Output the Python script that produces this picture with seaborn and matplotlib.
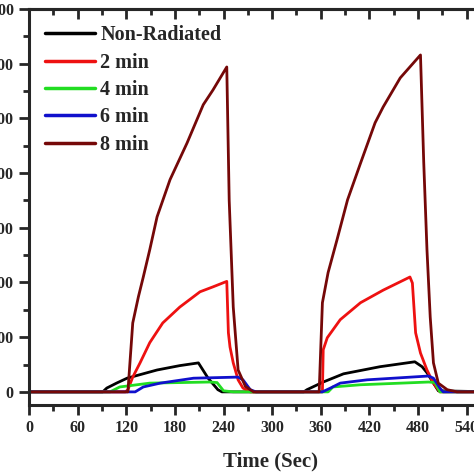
import pandas as pd
import matplotlib
matplotlib.use('Agg')
import matplotlib.pyplot as plt
import seaborn as sns
from matplotlib.ticker import MultipleLocator

# values (time in s, signal)
non_t = [0, 91, 96, 108, 121, 158, 186, 209, 221, 233, 238, 339, 343, 363, 388, 433, 476, 485, 491, 499, 505, 570]
non_y = [0, 0, 7, 16, 25, 40, 48, 53, 25, 4, 0, 0, 4, 18, 33, 46, 55, 46, 35, 16, 2, 0]

m2_t = [0, 119, 122, 128, 137, 149, 165, 186, 211, 227, 244, 246, 248, 252, 258, 264, 273,
        360, 362, 363, 368, 384, 409, 437, 470, 473, 477, 483, 491, 499, 507, 570]
m2_y = [0, 0, 4, 27, 53, 90, 126, 155, 183, 192, 202, 108, 82, 53, 22, 7, 0,
        0, 0, 77, 99, 132, 163, 186, 210, 199, 108, 71, 40, 16, 0, 0]

m4_t = [0, 100, 112, 149, 223, 232, 240, 252, 369, 375, 409, 493, 501, 507, 570]
m4_y = [0, 0, 9, 16, 18, 17, 2, 0, 0, 9, 13, 18, 17, 0, 0]

m6_t = [0, 131, 141, 162, 203, 258, 264, 273, 280, 362, 372, 384, 417, 493, 499, 507, 511, 570]
m6_y = [0, 0, 9, 16, 25, 27, 22, 4, 0, 0, 7, 16, 22, 29, 25, 7, 0, 0]

m8_t = [0, 122, 128, 135, 141, 149, 158, 174, 195, 215, 227, 244, 247, 252, 258, 267, 277,
        358, 362, 369, 380, 393, 409, 427, 437, 458, 483, 487, 491, 495, 499, 505, 516, 528, 570]
m8_y = [0, 0, 126, 174, 210, 260, 320, 388, 455, 525, 552, 594, 350, 155, 40, 10, 0,
        0, 163, 218, 278, 351, 418, 492, 521, 574, 616, 420, 260, 137, 53, 16, 4, 0, 0]

series = {'Non-Radiated': (non_t, non_y), '2 min': (m2_t, m2_y), '4 min': (m4_t, m4_y),
          '6 min': (m6_t, m6_y), '8 min': (m8_t, m8_y)}
frames = []
for name, (t, y) in series.items():
    frames.append(pd.DataFrame({'time': t, 'value': y, 'sample': name}))
df = pd.concat(frames, ignore_index=True)

colors = {'Non-Radiated': '#000000', '2 min': '#ee1111', '4 min': '#22dd22',
          '6 min': '#1010cc', '8 min': '#750808'}

sns.set_style('ticks')
plt.rcParams['font.family'] = ['Liberation Serif', 'DejaVu Serif']
plt.rcParams['font.weight'] = 'bold'

fig = plt.figure(figsize=(4.74, 4.74), dpi=100)
ax = fig.add_axes([29 / 474, 1 - 405 / 474, 462 / 474, 396 / 474])

sns.lineplot(data=df, x='time', y='value', hue='sample', palette=colors,
             estimator=None, sort=False, linewidth=2.0, ax=ax)

ax.set_xlim(0, 570)
ax.set_ylim(-24, 700)
ax.xaxis.set_major_locator(MultipleLocator(60))
ax.xaxis.set_minor_locator(MultipleLocator(30))
ax.yaxis.set_major_locator(MultipleLocator(100))
ax.yaxis.set_minor_locator(MultipleLocator(50))
for s in ax.spines.values():
    s.set_linewidth(2.2)
ax.tick_params(which='major', direction='out', length=7, width=2, labelsize=11.5, pad=4)
ax.tick_params(which='minor', direction='out', length=4, width=2)
for lab in ax.get_xticklabels() + ax.get_yticklabels():
    lab.set_fontweight('bold')

# mirrored ticks on top pointing into the plot
top = ax.secondary_xaxis('top')
top.xaxis.set_major_locator(MultipleLocator(60))
top.xaxis.set_minor_locator(MultipleLocator(30))
top.tick_params(which='major', direction='in', length=7, width=2, labeltop=False)
top.tick_params(which='minor', direction='in', length=4, width=2)
top.spines['top'].set_linewidth(2.2)

ax.set_xlabel('Time (Sec)', fontsize=15, fontweight='bold')
ax.xaxis.set_label_coords(0.522, -0.117)
ax.set_ylabel('')

leg = ax.legend(loc='upper left', bbox_to_anchor=(0.0, 1.0), frameon=False,
                prop={'weight': 'bold', 'size': 14.5}, handlelength=2.5,
                handletextpad=0.25, labelspacing=0.37, borderaxespad=0.4)
for line in leg.get_lines():
    line.set_linewidth(2.5)

fig.savefig('out.png', dpi=100)
